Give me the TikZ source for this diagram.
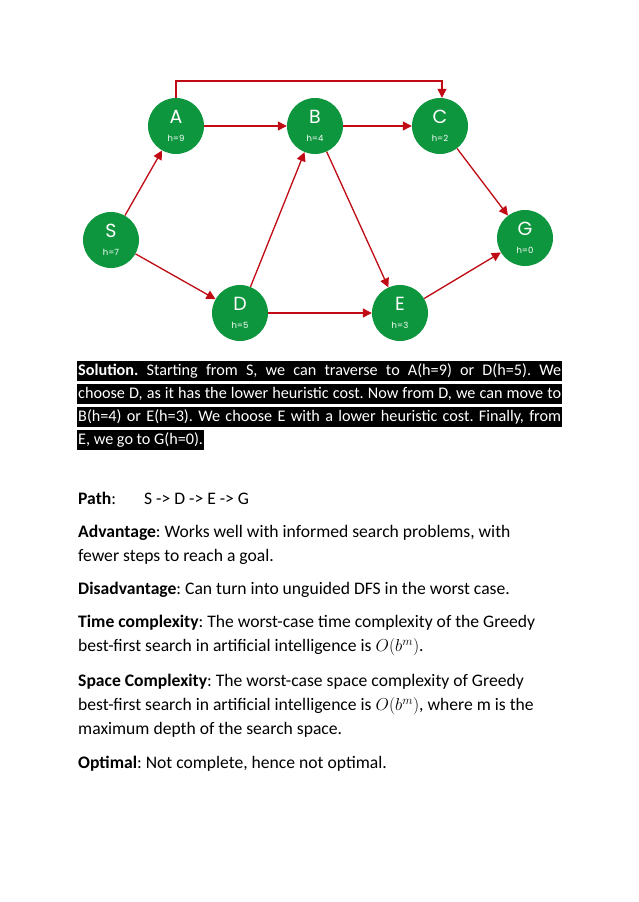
\documentclass[tikz,border=0pt]{standalone}
\usepackage{fontspec}
\setmainfont{Carlito}
\newfontfamily\nodefont{Poppins}
\usetikzlibrary{arrows.meta}
\definecolor{gnode}{RGB}{14,150,62}
\definecolor{redge}{RGB}{192,10,20}
\frenchspacing
\begin{document}
\begin{tikzpicture}[x=1pt,y=-1pt,
  gn/.style={circle,fill=gnode,minimum size=56pt,inner sep=0pt,text=white,align=center,font=\nodefont},
  ed/.style={draw=redge,line width=1.3pt,-{Triangle[length=9pt,width=9pt]}},
  blk/.style={fill=black,text=white,inner xsep=1pt,inner ysep=3pt,anchor=west,font=\fontsize{16.2}{18}\selectfont},
  para/.style={anchor=north west,text width=483pt,align=justify,inner sep=0pt,font=\fontsize{17.6}{24}\selectfont}]
\useasboundingbox[fill=white] (0,0) rectangle (638,902);
\newcommand\nd[2]{{\fontsize{19}{19}\selectfont #1}\\[6pt]{\fontsize{8.5}{9}\selectfont #2}}
\node[gn] (A) at (176,126) {\nd{A}{h=9}};
\node[gn] (B) at (315,126) {\nd{B}{h=4}};
\node[gn] (C) at (440,126) {\nd{C}{h=2}};
\node[gn] (S) at (111,240) {\nd{S}{h=7}};
\node[gn] (G) at (525,238) {\nd{G}{h=0}};
\node[gn] (D) at (240,313) {\nd{D}{h=5}};
\node[gn] (E) at (400,313) {\nd{E}{h=3}};
\draw[ed] (S) -- (A);
\draw[ed] (A) -- (B);
\draw[ed] (B) -- (C);
\draw[ed] (C) -- (G);
\draw[ed] (S) -- (D);
\draw[ed] (D) -- (B);
\draw[ed] (B) -- (E);
\draw[ed] (D) -- (E);
\draw[ed] (E) -- (G);
\draw[ed] (A.north) -- (176,81) -- (442,81) -- ([xshift=2pt]C.north);
\node[blk] (l1) at (77,371) {\hbox to 483pt{\textbf{Solution.} Starting from S, we can traverse to A(h=9) or D(h=5). We}};
\node[blk] (l2) at (77,394) {\hbox to 483pt{choose D, as it has the lower heuristic cost. Now from D, we can move to}};
\node[blk] (l3) at (77,417) {\hbox to 483pt{B(h=4) or E(h=3). We choose E with a lower heuristic cost. Finally, from}};
\node[blk] (l4) at (77,440) {E, we go to G(h=0).};
\node[para] (p0) at (78,492) {\textbf{Path}:\hspace{1.6em}S -> D -> E -> G};
\node[para] (p1) at (78,525) {\textbf{Advantage}: Works well with informed search problems, with\\ fewer steps to reach a goal.};
\node[para] (p2) at (78,582) {\textbf{Disadvantage}: Can turn into unguided DFS in the worst case.};
\node[para] (p3) at (78,615) {\textbf{Time complexity}: The worst-case time complexity of the Greedy\\ best-first search in artificial intelligence is $O(b^m)$.};
\node[para] (p4) at (78,674) {\textbf{Space Complexity}: The worst-case space complexity of Greedy\\ best-first search in artificial intelligence is $O(b^m)$, where m is the\\ maximum depth of the search space.};
\node[para] (p5) at (78,756) {\textbf{Optimal}: Not complete, hence not optimal.};
\end{tikzpicture}
\end{document}
